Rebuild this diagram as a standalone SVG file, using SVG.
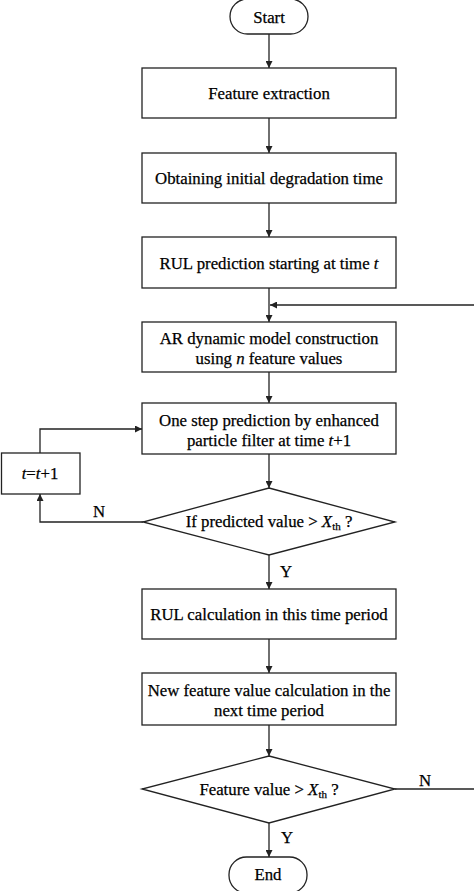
<svg xmlns="http://www.w3.org/2000/svg" width="474" height="891" viewBox="0 0 474 891">
<style>
.box{fill:#fff;stroke:#222;stroke-width:1.3}
.ln{fill:none;stroke:#222;stroke-width:1.3}
.arr{marker-end:url(#ah)}
text{font-family:'Liberation Serif','Times New Roman',Times,serif;font-size:16.8px;fill:#000;stroke:#000;stroke-width:0.25;text-anchor:middle}
.it{font-style:italic}
.sub{font-size:11px}
</style>
<defs>
<marker id="ah" markerUnits="userSpaceOnUse" markerWidth="8" markerHeight="7" refX="7" refY="3.5" orient="auto">
<path d="M0,0 L7,3.5 L0,7 z" fill="#222"/>
</marker>
</defs>
<g id="connectors">
<line class="ln arr" x1="269" y1="34" x2="269" y2="68"/>
<line class="ln arr" x1="269" y1="118" x2="269" y2="153"/>
<line class="ln arr" x1="269" y1="203" x2="269" y2="237"/>
<line class="ln arr" x1="269" y1="288" x2="269" y2="322"/>
<line class="ln arr" x1="474" y1="305" x2="270" y2="305"/>
<line class="ln arr" x1="269" y1="372" x2="269" y2="403"/>
<line class="ln arr" x1="269" y1="454" x2="269" y2="488"/>
<polyline class="ln arr" points="143,522 40,522 40,494"/>
<polyline class="ln arr" points="40,453 40,429 142,429"/>
<line class="ln arr" x1="269" y1="555" x2="269" y2="589"/>
<line class="ln arr" x1="269" y1="639" x2="269" y2="673"/>
<line class="ln arr" x1="269" y1="725" x2="269" y2="756"/>
<line class="ln" x1="395" y1="789" x2="474" y2="789"/>
<line class="ln arr" x1="269" y1="823" x2="269" y2="857"/>
<text x="99" y="517">N</text>
<text x="286" y="577">Y</text>
<text x="425" y="786">N</text>
<text x="287" y="843">Y</text>
</g>
<g id="start">
<rect class="box" x="230" y="-1" width="78" height="35" rx="17.5"/>
<text x="269" y="23">Start</text>
</g>
<g id="feature">
<rect class="box" x="142" y="68" width="254" height="50"/>
<text x="269" y="99">Feature extraction</text>
</g>
<g id="initial">
<rect class="box" x="142" y="153" width="254" height="50"/>
<text x="269" y="184">Obtaining initial degradation time</text>
</g>
<g id="rulstart">
<rect class="box" x="142" y="237" width="254" height="51"/>
<text x="269" y="269">RUL prediction starting at time <tspan class="it">t</tspan></text>
</g>
<g id="ar">
<rect class="box" x="142" y="322" width="254" height="50"/>
<text x="269" y="344">AR dynamic model construction</text>
<text x="269" y="364">using <tspan class="it">n</tspan> feature values</text>
</g>
<g id="onestep">
<rect class="box" x="142" y="403" width="254" height="51"/>
<text x="269" y="426">One step prediction by enhanced</text>
<text x="269" y="446">particle filter at time <tspan class="it">t</tspan>+1</text>
</g>
<g id="tinc">
<rect class="box" x="1.5" y="453" width="78.5" height="41"/>
<text x="40" y="479"><tspan class="it">t</tspan>=<tspan class="it">t</tspan>+1</text>
</g>
<g id="dec1">
<polygon class="box" points="269,488 395,522 269,555 143,522"/>
<text x="269" y="527">If predicted value &gt; <tspan class="it">X</tspan><tspan class="sub" dy="3">th</tspan><tspan dy="-3"> ?</tspan></text>
</g>
<g id="rulcalc">
<rect class="box" x="142" y="589" width="254" height="50"/>
<text x="269" y="620">RUL calculation in this time period</text>
</g>
<g id="newfeat">
<rect class="box" x="142" y="673" width="254" height="52"/>
<text x="269" y="696">New feature value calculation in the</text>
<text x="269" y="716">next time period</text>
</g>
<g id="dec2">
<polygon class="box" points="269,756 395,789 269,823 142,789"/>
<text x="269" y="795">Feature value &gt; <tspan class="it">X</tspan><tspan class="sub" dy="3">th</tspan><tspan dy="-3"> ?</tspan></text>
</g>
<g id="end">
<rect class="box" x="229" y="857" width="78" height="36" rx="17.5"/>
<text x="268" y="880">End</text>
</g>
</svg>
